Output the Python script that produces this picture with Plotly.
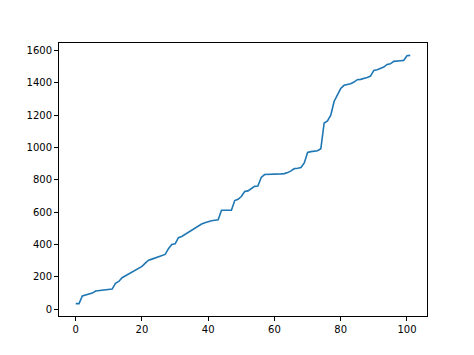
import plotly.graph_objects as go

x_vals = list(range(102))
y_vals = [
    35, 35, 82, 88, 98, 100, 113, 115, 115, 117,
    122, 125, 160, 172, 195, 207, 220, 230, 243, 258,
    265, 285, 303, 310, 318, 325, 331, 339, 375, 400,
    405, 443, 450, 463, 476, 490, 503, 515, 527, 535,
    543, 547, 550, 553, 612, 612, 612, 612, 672, 680,
    697, 728, 732, 745, 760, 762, 815, 833, 833, 835,
    835, 836, 837, 839, 845, 856, 870, 872, 877, 905,
    970, 975, 977, 980, 993, 1152, 1165, 1200, 1285, 1330,
    1365, 1385, 1389, 1395, 1405, 1420, 1422, 1426, 1434, 1442,
    1477, 1481, 1488, 1498, 1514, 1518, 1533, 1537, 1537, 1539,
    1568, 1570,
]
x_ticks = [0, 20, 40, 60, 80, 100]
y_ticks = [0, 200, 400, 600, 800, 1000, 1200, 1400, 1600]

xmin, xmax = min(x_vals), max(x_vals)
ymin, ymax = min(y_vals), max(y_vals)
xpad = 0.05 * (xmax - xmin)
ypad = 0.05 * (ymax - ymin)

fig = go.Figure()
fig.add_trace(go.Scatter(x=x_vals, y=y_vals, mode="lines",
                         line=dict(color="#1f77b4", width=1.6)))

axis_common = dict(showgrid=False, zeroline=False, showline=True, mirror=True,
                   linecolor="black", linewidth=1, ticks="outside", ticklen=4,
                   tickcolor="black", tickwidth=1,
                   tickfont=dict(family="DejaVu Sans", size=10, color="black"))

fig.update_layout(
    width=474, height=355,
    margin=dict(l=59, r=47, t=43, b=39),
    paper_bgcolor="white", plot_bgcolor="white",
    showlegend=False,
    xaxis=dict(range=[xmin - xpad, xmax + xpad], tickvals=x_ticks,
               ticktext=[str(t) for t in x_ticks], **axis_common),
    yaxis=dict(range=[ymin - ypad, ymax + ypad], tickvals=y_ticks,
               ticktext=[str(t) for t in y_ticks], **axis_common),
)

fig.write_html("out.html")
